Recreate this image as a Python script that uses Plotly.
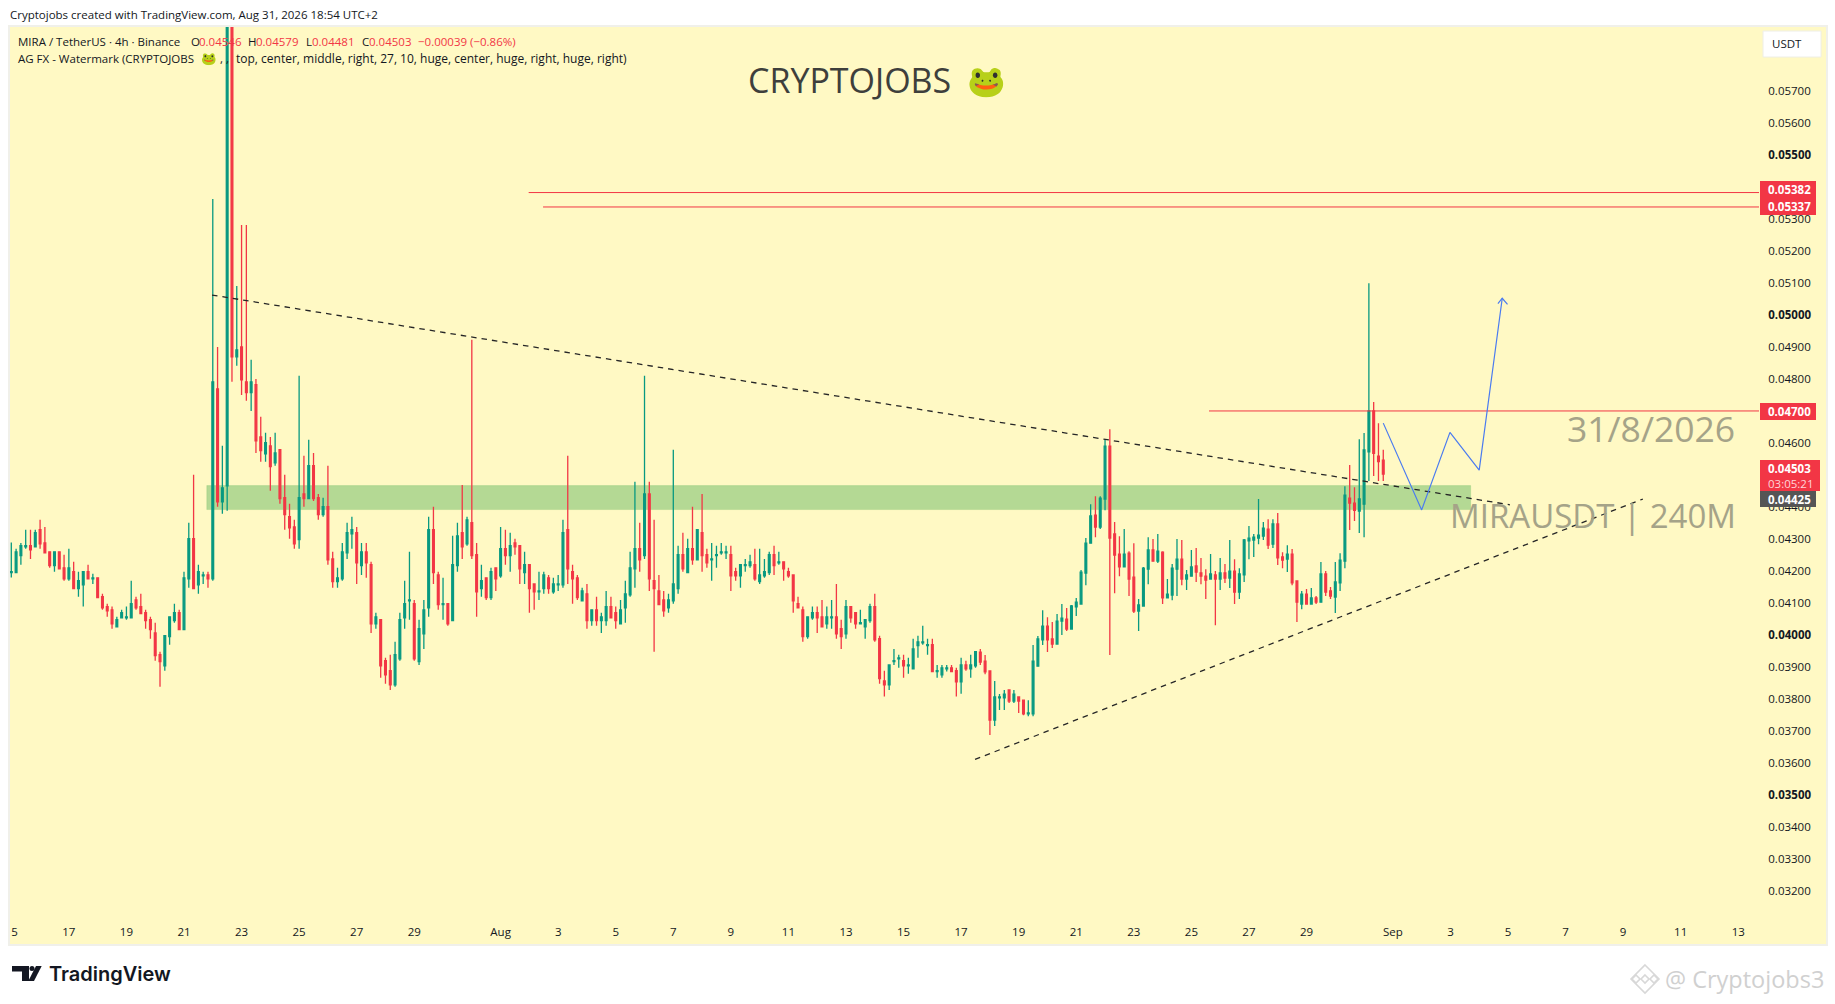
import pandas as pd
import plotly.graph_objects as go

# OHLC of MIRA/USDT 4h bars, in units of 0.00001 USDT
open_e5 = [
4195,4195,4248,4276,4279,4276,4329,4288,4260,4217,4260,4210,4176,4198,4145,4157,4198,4176,4179,4120,
4089,4079,4026,4054,4054,4054,4110,4089,4070,4048,4007,3939,3904,3995,4045,4070,4017,4176,4301,4157,
4185,4188,4176,4769,4416,4466,6120,4869,4900,4791,4757,4782,4619,4566,4591,4538,4579,4429,4370,4338,
4298,4441,4426,4529,4429,4376,4401,4238,4167,4176,4257,4316,4320,4217,4260,4220,4035,4048,3920,3889,
3845,3926,4054,4107,4098,3917,4004,4085,4329,4188,4095,4098,4045,4217,4320,4285,4351,4251,4145,4179,
4117,4210,4185,4270,4248,4288,4279,4195,4220,4160,4135,4145,4179,4135,4157,4157,4329,4198,4179,4107,
4129,4045,4079,4045,4045,4089,4070,4035,4085,4126,4207,4270,4248,4441,4170,4138,4110,4085,4107,4145,
4251,4195,4270,4235,4320,4251,4235,4248,4257,4257,4251,4198,4185,4217,4217,4220,4167,4185,4195,4251,
4226,4229,4198,4188,4098,4079,3995,4054,4070,4057,4035,4054,4057,4020,4004,4089,4070,4035,4026,4045,
4089,3989,3857,3845,3917,3926,3920,3904,3895,3967,3976,3967,3970,3886,3876,3895,3898,3889,3854,3907,
3895,3904,3947,3919,3888,3735,3804,3804,3829,3794,3807,3797,3754,3754,3903,3985,4028,3988,3972,4044,
4050,4019,4088,4097,4194,4287,4375,4337,4425,4590,4316,4253,4213,4256,4181,4075,4091,4206,4266,4231,
4259,4116,4125,4206,4237,4175,4184,4216,4194,4184,4175,4188,4175,4194,4178,4200,4134,4188,4294,4297,
4303,4309,4331,4284,4347,4244,4237,4253,4169,4097,4128,4097,4116,4103,4191,4138,4119,4163,4231,4428,
4412,4387,4409,4572,4700,4559,4546]
high_e5 = [
4289,4270,4288,4329,4329,4329,4360,4338,4260,4260,4260,4251,4270,4229,4198,4198,4220,4192,4179,4129,
4098,4089,4057,4079,4089,4170,4120,4129,4079,4057,4039,3948,3998,4057,4098,4079,4198,4351,4501,4220,
4198,4198,5362,4900,4591,6250,6280,5090,5281,5281,4860,4800,4682,4632,4619,4632,4579,4501,4410,4360,
4810,4560,4610,4569,4441,4429,4529,4260,4210,4288,4351,4370,4338,4288,4288,4229,4070,4048,3929,3939,
3979,4070,4170,4260,4110,4048,4110,4370,4401,4198,4179,4098,4310,4351,4469,4370,4922,4288,4220,4179,
4210,4210,4338,4329,4320,4301,4279,4260,4220,4160,4198,4198,4188,4179,4188,4360,4560,4220,4188,4148,
4160,4079,4120,4070,4138,4120,4089,4110,4170,4260,4479,4351,4810,4479,4360,4188,4138,4129,4579,4279,
4320,4301,4401,4329,4441,4270,4288,4279,4288,4279,4279,4210,4220,4238,4251,4270,4270,4238,4260,4279,
4260,4229,4210,4188,4120,4089,4057,4089,4089,4110,4089,4110,4160,4048,4110,4089,4070,4079,4048,4098,
4129,3998,3889,3907,3957,3939,3939,3929,3989,3998,4029,3989,3989,3907,3907,3907,3907,3898,3929,3920,
3939,3948,3957,3938,3888,3857,3816,3829,3829,3829,3807,3797,3797,3969,3997,4078,4056,4041,4066,4097,
4085,4094,4116,4203,4303,4409,4434,4434,4609,4643,4353,4309,4331,4262,4287,4113,4213,4306,4300,4316,
4262,4175,4222,4300,4297,4203,4266,4272,4241,4206,4253,4200,4241,4222,4297,4237,4209,4300,4341,4316,
4425,4353,4362,4362,4381,4259,4281,4269,4169,4138,4144,4147,4122,4228,4200,4150,4228,4256,4465,4531,
4462,4612,4631,5099,4728,4662,4579]
low_e5 = [
4180,4195,4220,4270,4238,4276,4270,4257,4210,4198,4207,4170,4170,4145,4120,4089,4176,4160,4117,4079,
4057,4020,4026,4054,4048,4054,4079,4067,4020,3989,3920,3839,3889,3970,4039,4017,4017,4148,4145,4129,
4160,4148,4170,4401,4379,4388,4791,4841,4750,4732,4700,4569,4541,4541,4451,4529,4410,4329,4301,4270,
4270,4401,4426,4419,4360,4370,4220,4148,4148,4170,4238,4270,4160,4188,4179,4007,4020,3867,3848,3829,
3839,3920,4020,4048,3920,3907,3957,4057,4160,4079,4048,4029,4045,4198,4238,4279,4238,4057,4120,4110,
4110,4138,4179,4220,4198,4251,4160,4160,4070,4079,4110,4129,4129,4129,4138,4148,4160,4098,4110,4107,
4020,4029,4029,4007,4029,4054,4020,4035,4039,4120,4148,4198,4238,4138,3948,4095,4057,4070,4098,4129,
4198,4195,4220,4235,4198,4210,4170,4210,4251,4238,4138,4170,4148,4198,4210,4170,4160,4179,4188,4188,
4220,4170,4179,4070,4085,3979,3989,4048,4007,4026,4020,4020,3989,3957,3989,4039,4020,4035,3989,4039,
3979,3848,3808,3829,3907,3898,3867,3879,3895,3929,3970,3939,3886,3867,3867,3886,3886,3808,3817,3889,
3867,3898,3907,3878,3688,3716,3766,3766,3788,3788,3757,3750,3747,3747,3903,3969,3947,3960,3972,4000,
4013,4019,4060,4097,4156,4287,4306,4331,4390,3938,4131,4184,4213,4122,4069,4013,4091,4159,4231,4225,
4097,4116,4109,4122,4156,4141,4184,4166,4159,4113,4175,4031,4141,4163,4147,4097,4113,4166,4237,4244,
4284,4297,4269,4272,4219,4209,4197,4156,4041,4081,4097,4097,4097,4103,4122,4113,4069,4138,4209,4328,
4356,4319,4306,4481,4497,4481,4481]
close_e5 = [
4198,4260,4279,4279,4266,4320,4285,4257,4217,4260,4207,4176,4210,4145,4170,4198,4176,4179,4117,4085,
4076,4035,4048,4070,4057,4098,4085,4067,4045,4017,3936,3917,3998,4057,4070,4017,4179,4301,4145,4198,
4188,4176,4791,4416,4460,6120,4869,4891,4797,4757,4791,4607,4576,4601,4526,4569,4426,4376,4335,4285,
4429,4426,4529,4426,4376,4401,4235,4167,4179,4260,4320,4329,4226,4260,4226,4035,4057,3904,3876,3845,
3939,4048,4098,4110,3926,4020,4079,4329,4195,4095,4098,4035,4220,4310,4276,4360,4248,4135,4170,4117,
4198,4176,4270,4248,4279,4276,4207,4220,4145,4135,4138,4188,4145,4160,4160,4320,4207,4176,4117,4138,
4045,4079,4045,4057,4089,4054,4045,4079,4129,4210,4270,4235,4441,4176,4145,4095,4076,4110,4160,4251,
4207,4270,4235,4329,4248,4226,4238,4251,4260,4260,4185,4185,4220,4220,4229,4176,4188,4198,4251,4217,
4229,4207,4185,4107,4085,3995,4057,4070,4054,4026,4057,4057,4004,3995,4089,4054,4035,4039,4048,4089,
3985,3864,3845,3907,3920,3929,3904,3907,3957,3979,3979,3970,3886,3889,3898,3898,3886,3854,3907,3895,
3907,3948,3916,3885,3735,3807,3807,3816,3794,3816,3794,3754,3757,3919,3988,4028,3985,3972,4044,4053,
4019,4091,4103,4197,4287,4372,4337,4428,4590,4303,4250,4213,4253,4175,4075,4094,4209,4266,4231,4262,
4116,4128,4209,4237,4175,4188,4213,4197,4184,4172,4191,4175,4194,4178,4200,4134,4191,4297,4303,4306,
4312,4334,4281,4347,4241,4234,4253,4163,4103,4128,4097,4116,4103,4191,4134,4122,4166,4234,4437,4412,
4390,4425,4578,4700,4568,4542,4503]
FIRST_BAR = "2026-07-15 02:00"

tick_dates = ["2026-07-%02d 02:00" % d for d in range(15, 30, 2)] + ["2026-08-01 02:00"] + \
             ["2026-08-%02d 02:00" % d for d in range(3, 30, 2)] + ["2026-09-01 02:00"] + \
             ["2026-09-%02d 02:00" % d for d in range(3, 14, 2)]
tick_labels = ["\u20075", "17", "19", "21", "23", "25", "27", "29", "Aug", "3", "5", "7", "9", "11", "13", "15",
               "17", "19", "21", "23", "25", "27", "29", "Sep", "3", "5", "7", "9", "11", "13"]
# 0.045, 0.047 and 0.054 sit wholly behind the price tags in the reference
price_ticks = [0.032, 0.033, 0.034, 0.035, 0.036, 0.037, 0.038, 0.039, 0.040, 0.041, 0.042, 0.043, 0.044,
               0.046, 0.048, 0.049, 0.050, 0.051, 0.052, 0.053, 0.055, 0.056, 0.057]
price_labels = [("<b>%.5f</b>" % p) if round(p * 1000) % 5 == 0 else "%.5f" % p for p in price_ticks]

# drawings (time, price)
falling_t = ["2026-07-22 01:22", "2026-09-05 03:36"]
falling_p = [0.05062, 0.04407]
rising_t = ["2026-08-17 13:36", "2026-09-09 18:24"]
rising_p = [0.03612, 0.04425]
AXIS_END = "2026-09-13 19:18"
res_a_t, res_a_p = ["2026-08-02 01:24", AXIS_END], [0.05382, 0.05382]
res_b_t, res_b_p = ["2026-08-02 13:24", AXIS_END], [0.05337, 0.05337]
res_c_t, res_c_p = ["2026-08-25 16:42", AXIS_END], [0.04700, 0.04700]
path_t = ["2026-08-31 18:00", "2026-09-02 02:00", "2026-09-03 01:36", "2026-09-04 02:00", "2026-09-04 21:12"]
path_p = [0.04662, 0.04391, 0.04633, 0.04515, 0.05052]
head_t = ["2026-09-04 17:36", "2026-09-04 21:12", "2026-09-05 01:36"]
head_p = [0.05035, 0.05052, 0.05033]
zone_t = ["2026-07-21 21:00", "2026-09-03 18:54"]
zone_p = [0.04392, 0.04467]

times = pd.date_range(FIRST_BAR, periods=len(close_e5), freq="4h")
TICK = 0.00001
YELLOW, RED, GREEN, INK = "#FFF9C4", "#F23645", "#089981", "#131722"
L, R, T, B = 10, 1759, 27, 915
FONT = "Open Sans"


def fx(X):
    return (X - L) / (R - L)


def fy(Y):
    return 1 - (Y - T) / (B - T)


fig = go.Figure()
fig.add_trace(go.Candlestick(
    x=times,
    open=[v * TICK for v in open_e5], high=[v * TICK for v in high_e5],
    low=[v * TICK for v in low_e5], close=[v * TICK for v in close_e5],
    increasing=dict(line=dict(color=GREEN, width=1.3), fillcolor=GREEN),
    decreasing=dict(line=dict(color=RED, width=1.3), fillcolor=RED),
    whiskerwidth=0, hoverinfo="skip", showlegend=False))


def draw(t, p, color, width=1.0, dash=None):
    fig.add_trace(go.Scatter(x=t, y=p, mode="lines", hoverinfo="skip", showlegend=False,
                             line=dict(color=color, width=width, dash=dash)))


draw(falling_t, falling_p, "#262626", 1.3, "5.5px,5px")
draw(rising_t, rising_p, "#262626", 1.3, "5.5px,5px")
draw(res_a_t, res_a_p, RED)
draw(res_b_t, res_b_p, RED)
draw(res_c_t, res_c_p, RED)
draw(path_t, path_p, "#4a7bf0", 1.2)
draw(head_t, head_p, "#4a7bf0", 1.2)

shapes = [
    dict(type="rect", xref="paper", yref="paper", layer="below", x0=fx(9), x1=fx(1827), y0=fy(945), y1=fy(26),
         fillcolor=YELLOW, line=dict(color="#F0F0EA", width=2)),
    dict(type="rect", xref="x", yref="y", layer="below", x0=zone_t[0], x1=zone_t[1], y0=zone_p[0], y1=zone_p[1],
         fillcolor="rgba(76,175,80,0.42)", line=dict(color="rgba(76,175,80,0.18)", width=1)),
    dict(type="rect", xref="paper", yref="paper", x0=fx(1763), x1=fx(1821), y0=fy(57), y1=fy(31),
         fillcolor="#FFFFFF", line=dict(color="#EEEEE6", width=1)),
]


def box(x1, y0, y1, color):
    shapes.append(dict(type="rect", xref="paper", yref="paper", x0=fx(1760), x1=fx(x1), y0=fy(y1), y1=fy(y0),
                       fillcolor=color, line=dict(width=0)))


box(1816, 181, 198, RED)
box(1816, 198, 215, RED)
box(1816, 403, 420, RED)
box(1820, 460, 491, RED)
box(1816, 491, 507, "#555555")


def poly(points, fill=None, line=None, width=1):
    d = "M " + " L ".join("%.6f %.6f" % (fx(a), fy(b)) for a, b in points) + " Z"
    shapes.append(dict(type="path", xref="paper", yref="paper", path=d, fillcolor=fill or "rgba(0,0,0,0)",
                       line=dict(color=line or "rgba(0,0,0,0)", width=width)))


# TradingView mark
poly([(12, 966), (29, 966), (29, 981), (22, 981), (22, 971.5), (12, 971.5)], fill=INK)
poly([(36, 966), (41.7, 966), (34, 981), (28.3, 981)], fill=INK)
shapes.append(dict(type="circle", xref="paper", yref="paper", x0=fx(29.5), x1=fx(34.5), y0=fy(971), y1=fy(966),
                   fillcolor=INK, line=dict(width=0)))
# exchange mark next to the footer handle
for cx, cy, r in [(1645, 979, 14), (1645, 979, 4), (1636, 979, 4), (1654, 979, 4)]:
    poly([(cx, cy - r), (cx + r, cy), (cx, cy + r), (cx - r, cy)], line="#D8D8D8", width=1.6)

annotations = []


def note(X, Y, text, size=11.5, color=INK, anchor="left", family=FONT, weight=None):
    font = dict(family=family, size=size, color=color)
    if weight:
        font["weight"] = weight
    annotations.append(dict(xref="paper", yref="paper", x=fx(X), y=fy(Y), text=text, showarrow=False,
                            xanchor=anchor, yanchor="middle", font=font, borderpad=0, borderwidth=0))


note(10, 15, "Cryptojobs created with TradingView.com, Aug 31, 2026 18:54 UTC+2")
note(18, 41.5, "MIRA / TetherUS · 4h · Binance")
for X, t in [(191, "O"), (248.5, "H"), (306, "L"), (361.5, "C")]:
    note(X, 41.5, t)
for X, t in [(199, "0.04546"), (256, "0.04579"), (312, "0.04481"), (369, "0.04503"), (418, "−0.00039 (−0.86%)")]:
    note(X, 41.5, t, color=RED)
note(18, 59, "AG FX - Watermark (CRYPTOJOBS")
note(201, 59, "🐸", size=12.5)
note(220, 59, ", ,")
note(236, 59, "top, center, middle, right, 27, 10, huge, center, huge, right, huge, right)", size=12)
note(748, 80, "CRYPTOJOBS", size=34, color="#3E3F3C")
note(967, 80, "🐸", size=31)
note(1735, 428, "31/8/2026", size=35.5, color="#A5A388", anchor="right")
note(1736, 515, "MIRAUSDT | 240M", size=33, color="#A5A388", anchor="right")
note(1772, 44, "USDT", size=11.5)
W = "#FFFFFF"
note(1768, 189.5, "<b>0.05382</b>", size=11.5, color=W)
note(1768, 206.5, "<b>0.05337</b>", size=11.5, color=W)
note(1768, 411.5, "<b>0.04700</b>", size=11.5, color=W)
note(1768, 468, "<b>0.04503</b>", size=11.5, color=W)
note(1768, 483, "03:05:21", size=11.5, color="#FFD5D8")
note(1768, 499, "<b>0.04425</b>", size=11.5, color=W)
note(49, 974, "TradingView", size=20, family="Inter", weight=600)
note(1665, 979, "@ Cryptojobs3", size=23.5, color="#D0D0D0", family="Open Sans")

fig.update_layout(
    width=1835, height=1004, autosize=False,
    margin=dict(l=L, r=1835 - R, t=T, b=1004 - B, pad=0, autoexpand=False),
    paper_bgcolor="#FFFFFF", plot_bgcolor=YELLOW,
    boxgap=0.635, boxgroupgap=0, showlegend=False, hovermode=False, dragmode=False,
    font=dict(family=FONT, size=11.5, color=INK),
    shapes=shapes, annotations=annotations,
    xaxis=dict(type="date", range=["2026-07-15 00:55", AXIS_END], rangeslider=dict(visible=False), automargin=False,
               tickmode="array", tickvals=tick_dates, ticktext=tick_labels, tickangle=0,
               ticks="outside", ticklen=6, tickcolor="rgba(0,0,0,0)", showgrid=False, zeroline=False, showline=False),
    yaxis=dict(side="right", range=[0.03126, 0.05899], automargin=False, tickmode="array", tickvals=price_ticks,
               ticktext=price_labels,
               ticks="outside", ticklen=6, tickcolor="rgba(0,0,0,0)", showgrid=False, zeroline=False, showline=False),
)
fig.write_html("out.html", config=dict(displayModeBar=False, staticPlot=True),
               post_script="document.body.style.margin='0';")
